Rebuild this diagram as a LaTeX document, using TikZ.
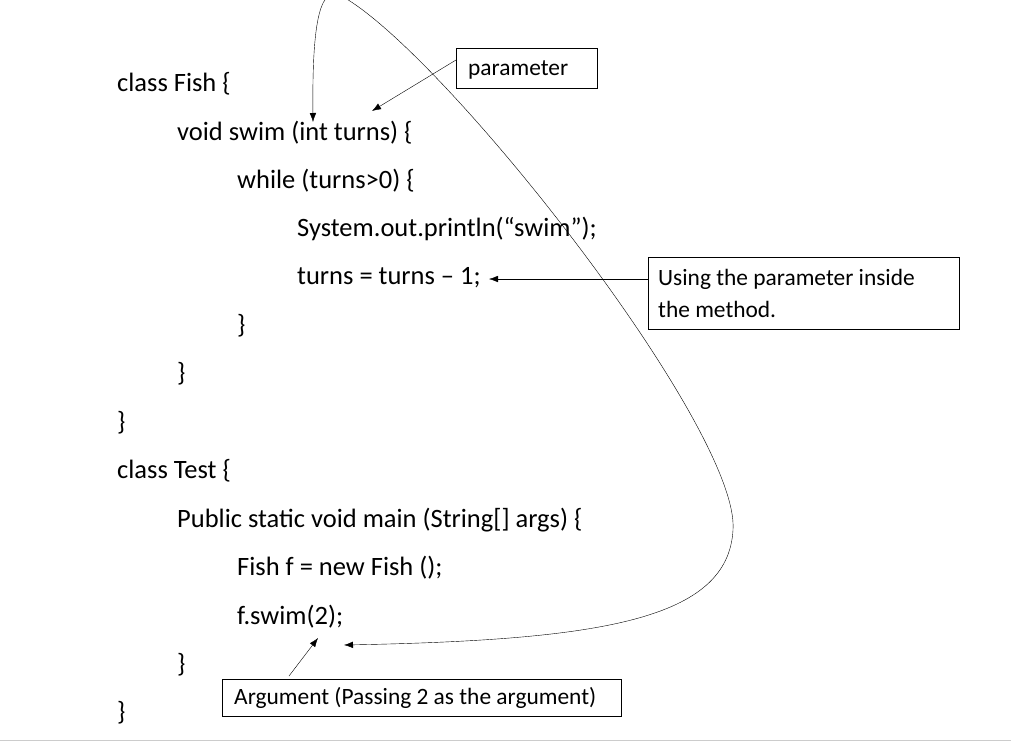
\documentclass[tikz,border=0pt]{standalone}
\usepackage{fontspec}
\setmainfont{Carlito}
\usetikzlibrary{arrows.meta}
\begin{document}
\begin{tikzpicture}[x=1pt,y=-1pt,
 code/.style={anchor=west,inner sep=0,font=\fontsize{26.5}{30}\selectfont},
 lbl/.style={font=\fontsize{23.4}{30}\selectfont,align=left,anchor=west,inner sep=0},
 tip/.tip={Latex[length=9pt,width=6.5pt]},
 arr/.style={-tip,thin}]
\useasboundingbox (0,0) rectangle (1011,742);
\clip (0,0) rectangle (1011,742);
\draw[gray!40] (0,740) -- (1011,740);
\node[code] (l1) at (117,84) {class Fish \{};
\node[code] (l2) at (177,133) {void swim (int turns) \{};
\node[code] (l3) at (237,181) {while (turns>0) \{};
\node[code] (l4) at (297,229) {System.out.println(“swim”);};
\node[code] (l5) at (297,278) {turns = turns – 1;};
\node[code] (l6) at (237,326) {\}};
\node[code] (l7) at (177,374) {\}};
\node[code] (l8) at (117,423) {\}};
\node[code] (l9) at (117,471) {class Test \{};
\node[code] (l10) at (177,520) {Public static void main (String[] args) \{};
\node[code] (l11) at (237,568) {Fish f = new Fish ();};
\node[code] (l12) at (237,617) {f.swim(2);};
\node[code] (l13) at (177,665) {\}};
\node[code] (l14) at (117,713) {\}};
\draw (456,48) rectangle (597,88);
\node[lbl] (p) at (468,70) {parameter};
\draw (648,257) rectangle (959,329);
\node[lbl] (u) at (658,279) {Using the parameter inside};
\node[lbl] (u2) at (658,309) {the method.};
\draw (222,679) rectangle (621,716);
\node[lbl] (a) at (234,698) {Argument (Passing 2 as the argument)};
\coordinate (pa) at (456,60); \coordinate (pb) at (372,111);
\draw[arr] (pa) -- (pb);
\coordinate (ua) at (648,279); \coordinate (ub) at (489,279);
\draw[arr] (ua) -- (ub);
\coordinate (aa) at (289,676); \coordinate (ab) at (318,638);
\draw[arr] (aa) -- (ab);
\coordinate (c1) at (344,645); \coordinate (c2) at (313,122);
\draw[tip-tip,thin] (c1) .. controls (600,640) and (728,620) .. (733,530)
 .. controls (740,430) and (450,60) .. (345,-2)
 .. controls (320,-20) and (312,20) .. (c2);
\end{tikzpicture}
\end{document}
